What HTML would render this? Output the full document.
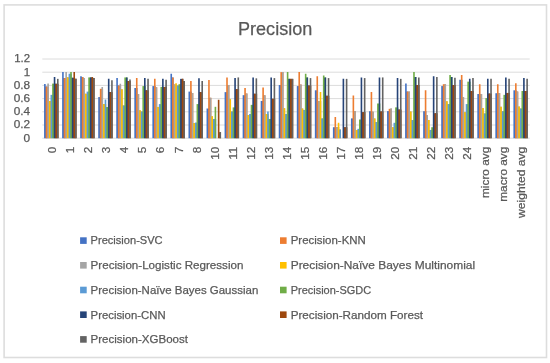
<!DOCTYPE html>
<html lang="en"><head><meta charset="utf-8"><title>Precision</title>
<style>html,body{margin:0;padding:0;background:#fff}svg{display:block}text{stroke:#595959;stroke-width:.25px}</style></head>
<body>
<svg width="550" height="363" viewBox="0 0 550 363" font-family='"Liberation Sans", sans-serif' fill="#595959">
<rect x="0" y="0" width="550" height="363" fill="#ffffff"/>
<rect x="4.1" y="4.9" width="542.4" height="352.6" fill="#ffffff" stroke="#DDDDDD" stroke-width="1.6"/>
<line x1="42.3" x2="529.7" y1="138.20" y2="138.20" stroke="#DCDCDC" stroke-width="1"/>
<line x1="42.3" x2="529.7" y1="125.00" y2="125.00" stroke="#DCDCDC" stroke-width="1"/>
<line x1="42.3" x2="529.7" y1="111.80" y2="111.80" stroke="#DCDCDC" stroke-width="1"/>
<line x1="42.3" x2="529.7" y1="98.60" y2="98.60" stroke="#DCDCDC" stroke-width="1"/>
<line x1="42.3" x2="529.7" y1="85.40" y2="85.40" stroke="#DCDCDC" stroke-width="1"/>
<line x1="42.3" x2="529.7" y1="72.20" y2="72.20" stroke="#DCDCDC" stroke-width="1"/>
<line x1="42.3" x2="529.7" y1="59.00" y2="59.00" stroke="#DCDCDC" stroke-width="1"/>
<text x="30.1" y="141.65" font-size="10.9" text-anchor="end" textLength="6.6" lengthAdjust="spacingAndGlyphs">0</text>
<text x="30.1" y="128.45" font-size="10.9" text-anchor="end" textLength="16.4" lengthAdjust="spacingAndGlyphs">0.2</text>
<text x="30.1" y="115.25" font-size="10.9" text-anchor="end" textLength="16.4" lengthAdjust="spacingAndGlyphs">0.4</text>
<text x="30.1" y="102.05" font-size="10.9" text-anchor="end" textLength="16.4" lengthAdjust="spacingAndGlyphs">0.6</text>
<text x="30.1" y="88.85" font-size="10.9" text-anchor="end" textLength="16.4" lengthAdjust="spacingAndGlyphs">0.8</text>
<text x="30.1" y="75.65" font-size="10.9" text-anchor="end" textLength="6.4" lengthAdjust="spacingAndGlyphs">1</text>
<text x="30.1" y="62.45" font-size="10.9" text-anchor="end" textLength="15.8" lengthAdjust="spacingAndGlyphs">1.2</text>
<path d="M44.07 138.2V84.06H45.68V86.59H47.29V138.2Z" fill="#4472C4"/>
<path d="M45.68 138.2V86.59H48.91V138.2Z" fill="#ED7D31"/>
<path d="M47.29 138.2V83.60H48.91V100.96H50.52V138.2Z" fill="#A5A5A5"/>
<path d="M48.91 138.2V100.96H52.13V138.2Z" fill="#FFC000"/>
<path d="M50.52 138.2V94.85H53.75V138.2Z" fill="#5B9BD5"/>
<path d="M52.13 138.2V83.60H55.36V138.2Z" fill="#70AD47"/>
<path d="M53.75 138.2V76.91H55.36V83.80H56.97V138.2Z" fill="#264478"/>
<path d="M55.36 138.2V83.80H58.59V138.2Z" fill="#9E480E"/>
<path d="M56.97 138.2V78.86H58.59V138.2Z" fill="#636363"/>
<path d="M62.12 138.2V72.10H63.73V78.08H65.34V138.2Z" fill="#4472C4"/>
<path d="M63.73 138.2V78.08H66.96V138.2Z" fill="#ED7D31"/>
<path d="M65.34 138.2V72.10H66.96V77.30H68.57V138.2Z" fill="#A5A5A5"/>
<path d="M66.96 138.2V77.30H70.18V138.2Z" fill="#FFC000"/>
<path d="M68.57 138.2V73.72H71.80V138.2Z" fill="#5B9BD5"/>
<path d="M70.18 138.2V72.10H71.80V77.75H73.41V138.2Z" fill="#70AD47"/>
<path d="M71.80 138.2V77.75H75.02V138.2Z" fill="#264478"/>
<path d="M73.41 138.2V72.10H75.02V78.86H76.64V138.2Z" fill="#9E480E"/>
<path d="M75.02 138.2V78.86H76.64V138.2Z" fill="#636363"/>
<path d="M80.17 138.2V76.13H81.78V76.97H83.40V138.2Z" fill="#4472C4"/>
<path d="M81.78 138.2V76.97H83.40V78.08H85.01V138.2Z" fill="#ED7D31"/>
<path d="M83.40 138.2V78.08H85.01V93.74H86.62V138.2Z" fill="#A5A5A5"/>
<path d="M85.01 138.2V93.74H88.24V138.2Z" fill="#FFC000"/>
<path d="M86.62 138.2V91.60H89.85V138.2Z" fill="#5B9BD5"/>
<path d="M88.24 138.2V77.43H91.46V138.2Z" fill="#70AD47"/>
<path d="M89.85 138.2V77.43H93.08V138.2Z" fill="#264478"/>
<path d="M91.46 138.2V76.91H93.08V78.08H94.69V138.2Z" fill="#9E480E"/>
<path d="M93.08 138.2V78.08H94.69V138.2Z" fill="#636363"/>
<path d="M98.22 138.2V97.06H101.45V138.2Z" fill="#4472C4"/>
<path d="M99.84 138.2V88.80H103.06V138.2Z" fill="#ED7D31"/>
<path d="M101.45 138.2V86.92H103.06V104.08H104.67V138.2Z" fill="#A5A5A5"/>
<path d="M103.06 138.2V104.08H106.29V138.2Z" fill="#FFC000"/>
<path d="M104.67 138.2V99.40H106.29V107.07H107.90V138.2Z" fill="#5B9BD5"/>
<path d="M106.29 138.2V107.07H109.51V138.2Z" fill="#70AD47"/>
<path d="M107.90 138.2V78.86H109.51V92.12H111.13V138.2Z" fill="#264478"/>
<path d="M109.51 138.2V92.12H112.74V138.2Z" fill="#9E480E"/>
<path d="M111.13 138.2V80.22H112.74V138.2Z" fill="#636363"/>
<path d="M116.27 138.2V78.08H117.89V85.49H119.50V138.2Z" fill="#4472C4"/>
<path d="M117.89 138.2V85.49H121.11V138.2Z" fill="#ED7D31"/>
<path d="M119.50 138.2V83.86H121.11V89.32H122.73V138.2Z" fill="#A5A5A5"/>
<path d="M121.11 138.2V89.32H122.73V105.44H124.34V138.2Z" fill="#FFC000"/>
<path d="M122.73 138.2V105.44H125.95V138.2Z" fill="#5B9BD5"/>
<path d="M124.34 138.2V77.43H127.57V138.2Z" fill="#70AD47"/>
<path d="M125.95 138.2V77.43H127.57V81.07H129.18V138.2Z" fill="#264478"/>
<path d="M127.57 138.2V81.07H130.79V138.2Z" fill="#9E480E"/>
<path d="M129.18 138.2V79.44H130.79V138.2Z" fill="#636363"/>
<path d="M134.33 138.2V88.02H137.55V138.2Z" fill="#4472C4"/>
<path d="M135.94 138.2V78.08H137.55V94.00H139.17V138.2Z" fill="#ED7D31"/>
<path d="M137.55 138.2V94.00H139.17V110.19H140.78V138.2Z" fill="#A5A5A5"/>
<path d="M139.17 138.2V110.19H140.78V111.49H142.39V138.2Z" fill="#FFC000"/>
<path d="M140.78 138.2V111.49H144.01V138.2Z" fill="#5B9BD5"/>
<path d="M142.39 138.2V86.07H145.62V138.2Z" fill="#70AD47"/>
<path d="M144.01 138.2V78.08H145.62V90.30H147.23V138.2Z" fill="#264478"/>
<path d="M145.62 138.2V90.30H148.84V138.2Z" fill="#9E480E"/>
<path d="M147.23 138.2V78.86H148.84V138.2Z" fill="#636363"/>
<path d="M152.38 138.2V86.07H155.60V138.2Z" fill="#4472C4"/>
<path d="M153.99 138.2V78.86H155.60V87.18H157.22V138.2Z" fill="#ED7D31"/>
<path d="M155.60 138.2V87.18H157.22V106.88H158.83V138.2Z" fill="#A5A5A5"/>
<path d="M157.22 138.2V106.88H160.44V138.2Z" fill="#FFC000"/>
<path d="M158.83 138.2V104.08H162.06V138.2Z" fill="#5B9BD5"/>
<path d="M160.44 138.2V86.92H163.67V138.2Z" fill="#70AD47"/>
<path d="M162.06 138.2V78.86H163.67V86.92H165.28V138.2Z" fill="#264478"/>
<path d="M163.67 138.2V86.92H166.90V138.2Z" fill="#9E480E"/>
<path d="M165.28 138.2V79.77H166.90V138.2Z" fill="#636363"/>
<path d="M170.43 138.2V73.72H172.04V77.56H173.66V138.2Z" fill="#4472C4"/>
<path d="M172.04 138.2V77.56H173.66V84.38H175.27V138.2Z" fill="#ED7D31"/>
<path d="M173.66 138.2V84.38H176.88V138.2Z" fill="#A5A5A5"/>
<path d="M175.27 138.2V83.28H176.88V85.49H178.50V138.2Z" fill="#FFC000"/>
<path d="M176.88 138.2V85.49H180.11V138.2Z" fill="#5B9BD5"/>
<path d="M178.50 138.2V84.19H181.72V138.2Z" fill="#70AD47"/>
<path d="M180.11 138.2V78.86H183.34V138.2Z" fill="#264478"/>
<path d="M181.72 138.2V78.86H183.34V81.07H184.95V138.2Z" fill="#9E480E"/>
<path d="M183.34 138.2V81.07H184.95V138.2Z" fill="#636363"/>
<path d="M188.48 138.2V91.60H191.71V138.2Z" fill="#4472C4"/>
<path d="M190.09 138.2V80.88H191.71V92.90H193.32V138.2Z" fill="#ED7D31"/>
<path d="M191.71 138.2V92.90H193.32V123.06H194.93V138.2Z" fill="#A5A5A5"/>
<path d="M193.32 138.2V123.06H196.55V138.2Z" fill="#FFC000"/>
<path d="M194.93 138.2V122.54H198.16V138.2Z" fill="#5B9BD5"/>
<path d="M196.55 138.2V104.08H199.77V138.2Z" fill="#70AD47"/>
<path d="M198.16 138.2V78.34H199.77V92.12H201.39V138.2Z" fill="#264478"/>
<path d="M199.77 138.2V92.12H203.00V138.2Z" fill="#9E480E"/>
<path d="M201.39 138.2V81.07H203.00V138.2Z" fill="#636363"/>
<path d="M206.53 138.2V108.50H209.76V138.2Z" fill="#4472C4"/>
<path d="M208.15 138.2V79.97H209.76V97.64H211.37V138.2Z" fill="#ED7D31"/>
<path d="M209.76 138.2V97.64H211.37V116.17H212.99V138.2Z" fill="#A5A5A5"/>
<path d="M211.37 138.2V116.17H212.99V118.96H214.60V138.2Z" fill="#FFC000"/>
<path d="M212.99 138.2V118.96H216.21V138.2Z" fill="#5B9BD5"/>
<path d="M214.60 138.2V106.81H216.21V138.2Z" fill="#70AD47"/>
<path d="M217.83 138.2V99.85H219.44V132.16H221.05V138.2Z" fill="#9E480E"/>
<path d="M219.44 138.2V132.16H221.05V138.2Z" fill="#636363"/>
<path d="M224.58 138.2V92.12H227.81V138.2Z" fill="#4472C4"/>
<path d="M226.20 138.2V77.43H227.81V84.97H229.42V138.2Z" fill="#ED7D31"/>
<path d="M227.81 138.2V84.97H229.42V99.27H231.04V138.2Z" fill="#A5A5A5"/>
<path d="M229.42 138.2V99.27H231.04V111.49H232.65V138.2Z" fill="#FFC000"/>
<path d="M231.04 138.2V111.49H234.26V138.2Z" fill="#5B9BD5"/>
<path d="M232.65 138.2V107.39H235.88V138.2Z" fill="#70AD47"/>
<path d="M234.26 138.2V78.08H235.88V89.13H237.49V138.2Z" fill="#264478"/>
<path d="M235.88 138.2V89.13H239.10V138.2Z" fill="#9E480E"/>
<path d="M237.49 138.2V77.43H239.10V138.2Z" fill="#636363"/>
<path d="M242.64 138.2V95.17H245.86V138.2Z" fill="#4472C4"/>
<path d="M244.25 138.2V88.02H245.86V93.55H247.48V138.2Z" fill="#ED7D31"/>
<path d="M245.86 138.2V93.55H247.48V115.06H249.09V138.2Z" fill="#A5A5A5"/>
<path d="M247.48 138.2V115.06H250.70V138.2Z" fill="#FFC000"/>
<path d="M249.09 138.2V113.96H252.32V138.2Z" fill="#5B9BD5"/>
<path d="M250.70 138.2V104.86H253.93V138.2Z" fill="#70AD47"/>
<path d="M252.32 138.2V77.43H253.93V93.74H255.54V138.2Z" fill="#264478"/>
<path d="M253.93 138.2V93.74H257.16V138.2Z" fill="#9E480E"/>
<path d="M255.54 138.2V78.34H257.16V138.2Z" fill="#636363"/>
<path d="M260.69 138.2V100.96H263.92V138.2Z" fill="#4472C4"/>
<path d="M262.30 138.2V87.38H263.92V95.17H265.53V138.2Z" fill="#ED7D31"/>
<path d="M263.92 138.2V95.17H265.53V113.96H267.14V138.2Z" fill="#A5A5A5"/>
<path d="M265.53 138.2V113.96H268.75V138.2Z" fill="#FFC000"/>
<path d="M267.14 138.2V111.42H268.75V118.96H270.37V138.2Z" fill="#5B9BD5"/>
<path d="M268.75 138.2V118.96H271.98V138.2Z" fill="#70AD47"/>
<path d="M270.37 138.2V77.43H271.98V98.75H273.59V138.2Z" fill="#264478"/>
<path d="M271.98 138.2V98.75H275.21V138.2Z" fill="#9E480E"/>
<path d="M273.59 138.2V78.08H275.21V138.2Z" fill="#636363"/>
<path d="M278.74 138.2V84.97H281.97V138.2Z" fill="#4472C4"/>
<path d="M280.35 138.2V72.10H283.58V138.2Z" fill="#ED7D31"/>
<path d="M281.97 138.2V72.10H283.58V108.17H285.19V138.2Z" fill="#A5A5A5"/>
<path d="M283.58 138.2V108.17H285.19V113.96H286.81V138.2Z" fill="#FFC000"/>
<path d="M285.19 138.2V113.96H288.42V138.2Z" fill="#5B9BD5"/>
<path d="M286.81 138.2V72.10H288.42V78.86H290.03V138.2Z" fill="#70AD47"/>
<path d="M288.42 138.2V78.86H291.65V138.2Z" fill="#264478"/>
<path d="M290.03 138.2V78.86H293.26V138.2Z" fill="#9E480E"/>
<path d="M291.65 138.2V78.86H293.26V138.2Z" fill="#636363"/>
<path d="M296.79 138.2V86.07H300.02V138.2Z" fill="#4472C4"/>
<path d="M298.41 138.2V72.10H300.02V84.38H301.63V138.2Z" fill="#ED7D31"/>
<path d="M300.02 138.2V84.38H301.63V108.50H303.25V138.2Z" fill="#A5A5A5"/>
<path d="M301.63 138.2V108.50H303.25V109.93H304.86V138.2Z" fill="#FFC000"/>
<path d="M303.25 138.2V109.93H306.47V138.2Z" fill="#5B9BD5"/>
<path d="M304.86 138.2V73.72H306.47V77.43H308.08V138.2Z" fill="#70AD47"/>
<path d="M306.47 138.2V77.43H308.08V85.49H309.70V138.2Z" fill="#264478"/>
<path d="M308.08 138.2V85.49H311.31V138.2Z" fill="#9E480E"/>
<path d="M309.70 138.2V78.08H311.31V138.2Z" fill="#636363"/>
<path d="M314.84 138.2V90.30H318.07V138.2Z" fill="#4472C4"/>
<path d="M316.46 138.2V76.13H318.07V101.02H319.68V138.2Z" fill="#ED7D31"/>
<path d="M318.07 138.2V101.02H321.30V138.2Z" fill="#A5A5A5"/>
<path d="M319.68 138.2V92.12H321.30V118.38H322.91V138.2Z" fill="#FFC000"/>
<path d="M321.30 138.2V118.38H324.52V138.2Z" fill="#5B9BD5"/>
<path d="M322.91 138.2V75.54H324.52V77.43H326.14V138.2Z" fill="#70AD47"/>
<path d="M324.52 138.2V77.43H326.14V95.76H327.75V138.2Z" fill="#264478"/>
<path d="M326.14 138.2V95.76H329.36V138.2Z" fill="#9E480E"/>
<path d="M327.75 138.2V78.08H329.36V138.2Z" fill="#636363"/>
<path d="M332.90 138.2V127.22H336.12V138.2Z" fill="#4472C4"/>
<path d="M334.51 138.2V116.95H336.12V127.02H337.74V138.2Z" fill="#ED7D31"/>
<path d="M336.12 138.2V127.02H339.35V138.2Z" fill="#A5A5A5"/>
<path d="M337.74 138.2V122.80H339.35V129.43H340.96V138.2Z" fill="#FFC000"/>
<path d="M339.35 138.2V129.43H340.96V138.2Z" fill="#5B9BD5"/>
<path d="M342.58 138.2V78.86H344.19V127.22H345.80V138.2Z" fill="#264478"/>
<path d="M344.19 138.2V127.22H347.42V138.2Z" fill="#9E480E"/>
<path d="M345.80 138.2V78.86H347.42V138.2Z" fill="#636363"/>
<path d="M350.95 138.2V118.38H354.17V138.2Z" fill="#4472C4"/>
<path d="M352.56 138.2V95.44H354.17V111.10H355.79V138.2Z" fill="#ED7D31"/>
<path d="M354.17 138.2V111.10H355.79V129.95H357.40V138.2Z" fill="#A5A5A5"/>
<path d="M355.79 138.2V129.95H359.01V138.2Z" fill="#FFC000"/>
<path d="M357.40 138.2V128.84H360.63V138.2Z" fill="#5B9BD5"/>
<path d="M359.01 138.2V119.48H362.24V138.2Z" fill="#70AD47"/>
<path d="M360.63 138.2V77.43H362.24V112.14H363.85V138.2Z" fill="#264478"/>
<path d="M362.24 138.2V112.14H365.47V138.2Z" fill="#9E480E"/>
<path d="M363.85 138.2V78.08H365.47V138.2Z" fill="#636363"/>
<path d="M369.00 138.2V111.23H372.23V138.2Z" fill="#4472C4"/>
<path d="M370.61 138.2V92.12H372.23V111.75H373.84V138.2Z" fill="#ED7D31"/>
<path d="M372.23 138.2V111.75H373.84V118.38H375.45V138.2Z" fill="#A5A5A5"/>
<path d="M373.84 138.2V118.38H375.45V122.02H377.07V138.2Z" fill="#FFC000"/>
<path d="M375.45 138.2V122.02H378.68V138.2Z" fill="#5B9BD5"/>
<path d="M377.07 138.2V103.49H380.29V138.2Z" fill="#70AD47"/>
<path d="M378.68 138.2V77.43H380.29V111.42H381.91V138.2Z" fill="#264478"/>
<path d="M380.29 138.2V111.42H383.52V138.2Z" fill="#9E480E"/>
<path d="M381.91 138.2V77.43H383.52V138.2Z" fill="#636363"/>
<path d="M387.05 138.2V111.10H390.28V138.2Z" fill="#4472C4"/>
<path d="M388.66 138.2V108.82H391.89V138.2Z" fill="#ED7D31"/>
<path d="M390.28 138.2V108.17H391.89V127.22H393.50V138.2Z" fill="#A5A5A5"/>
<path d="M391.89 138.2V127.22H395.12V138.2Z" fill="#FFC000"/>
<path d="M393.50 138.2V122.80H396.73V138.2Z" fill="#5B9BD5"/>
<path d="M395.12 138.2V107.39H398.34V138.2Z" fill="#70AD47"/>
<path d="M396.73 138.2V78.08H398.34V109.60H399.96V138.2Z" fill="#264478"/>
<path d="M398.34 138.2V109.60H401.57V138.2Z" fill="#9E480E"/>
<path d="M399.96 138.2V78.86H401.57V138.2Z" fill="#636363"/>
<path d="M405.10 138.2V83.60H406.72V91.60H408.33V138.2Z" fill="#4472C4"/>
<path d="M406.72 138.2V91.60H409.94V138.2Z" fill="#ED7D31"/>
<path d="M408.33 138.2V91.60H409.94V111.42H411.56V138.2Z" fill="#A5A5A5"/>
<path d="M409.94 138.2V111.42H411.56V120.07H413.17V138.2Z" fill="#FFC000"/>
<path d="M411.56 138.2V120.07H414.78V138.2Z" fill="#5B9BD5"/>
<path d="M413.17 138.2V72.10H414.78V76.97H416.40V138.2Z" fill="#70AD47"/>
<path d="M414.78 138.2V76.97H416.40V84.97H418.01V138.2Z" fill="#264478"/>
<path d="M416.40 138.2V84.97H419.62V138.2Z" fill="#9E480E"/>
<path d="M418.01 138.2V77.43H419.62V138.2Z" fill="#636363"/>
<path d="M423.16 138.2V111.23H426.38V138.2Z" fill="#4472C4"/>
<path d="M424.77 138.2V90.30H426.38V115.06H427.99V138.2Z" fill="#ED7D31"/>
<path d="M426.38 138.2V115.06H427.99V120.07H429.61V138.2Z" fill="#A5A5A5"/>
<path d="M427.99 138.2V120.07H429.61V129.95H431.22V138.2Z" fill="#FFC000"/>
<path d="M429.61 138.2V129.95H432.83V138.2Z" fill="#5B9BD5"/>
<path d="M431.22 138.2V127.22H434.45V138.2Z" fill="#70AD47"/>
<path d="M432.83 138.2V76.13H434.45V113.24H436.06V138.2Z" fill="#264478"/>
<path d="M434.45 138.2V113.24H437.67V138.2Z" fill="#9E480E"/>
<path d="M436.06 138.2V76.97H437.67V138.2Z" fill="#636363"/>
<path d="M441.21 138.2V86.07H444.43V138.2Z" fill="#4472C4"/>
<path d="M442.82 138.2V84.19H446.05V138.2Z" fill="#ED7D31"/>
<path d="M444.43 138.2V84.19H446.05V101.35H447.66V138.2Z" fill="#A5A5A5"/>
<path d="M446.05 138.2V101.35H447.66V104.08H449.27V138.2Z" fill="#FFC000"/>
<path d="M447.66 138.2V104.08H450.89V138.2Z" fill="#5B9BD5"/>
<path d="M449.27 138.2V75.03H450.89V76.97H452.50V138.2Z" fill="#70AD47"/>
<path d="M450.89 138.2V76.97H452.50V84.97H454.11V138.2Z" fill="#264478"/>
<path d="M452.50 138.2V84.97H455.73V138.2Z" fill="#9E480E"/>
<path d="M454.11 138.2V77.75H455.73V138.2Z" fill="#636363"/>
<path d="M459.26 138.2V79.77H462.49V138.2Z" fill="#4472C4"/>
<path d="M460.87 138.2V75.03H462.49V97.06H464.10V138.2Z" fill="#ED7D31"/>
<path d="M462.49 138.2V97.06H464.10V112.14H465.71V138.2Z" fill="#A5A5A5"/>
<path d="M464.10 138.2V112.14H467.33V138.2Z" fill="#FFC000"/>
<path d="M465.71 138.2V104.08H468.94V138.2Z" fill="#5B9BD5"/>
<path d="M467.33 138.2V81.66H470.55V138.2Z" fill="#70AD47"/>
<path d="M468.94 138.2V78.86H470.55V91.01H472.16V138.2Z" fill="#264478"/>
<path d="M470.55 138.2V91.01H473.78V138.2Z" fill="#9E480E"/>
<path d="M472.16 138.2V78.08H473.78V138.2Z" fill="#636363"/>
<path d="M477.31 138.2V94.00H480.54V138.2Z" fill="#4472C4"/>
<path d="M478.92 138.2V84.19H480.54V94.00H482.15V138.2Z" fill="#ED7D31"/>
<path d="M480.54 138.2V94.00H482.15V107.91H483.76V138.2Z" fill="#A5A5A5"/>
<path d="M482.15 138.2V107.91H483.76V113.44H485.38V138.2Z" fill="#FFC000"/>
<path d="M483.76 138.2V113.44H486.99V138.2Z" fill="#5B9BD5"/>
<path d="M485.38 138.2V98.10H488.60V138.2Z" fill="#70AD47"/>
<path d="M486.99 138.2V78.86H488.60V93.55H490.22V138.2Z" fill="#264478"/>
<path d="M488.60 138.2V93.55H491.83V138.2Z" fill="#9E480E"/>
<path d="M490.22 138.2V78.86H491.83V138.2Z" fill="#636363"/>
<path d="M495.36 138.2V93.22H498.59V138.2Z" fill="#4472C4"/>
<path d="M496.98 138.2V84.19H498.59V92.90H500.20V138.2Z" fill="#ED7D31"/>
<path d="M498.59 138.2V92.90H500.20V106.81H501.82V138.2Z" fill="#A5A5A5"/>
<path d="M500.20 138.2V106.81H501.82V111.23H503.43V138.2Z" fill="#FFC000"/>
<path d="M501.82 138.2V111.23H505.04V138.2Z" fill="#5B9BD5"/>
<path d="M503.43 138.2V94.85H506.66V138.2Z" fill="#70AD47"/>
<path d="M505.04 138.2V77.43H506.66V92.90H508.27V138.2Z" fill="#264478"/>
<path d="M506.66 138.2V92.90H509.88V138.2Z" fill="#9E480E"/>
<path d="M508.27 138.2V78.86H509.88V138.2Z" fill="#636363"/>
<path d="M513.41 138.2V90.30H516.64V138.2Z" fill="#4472C4"/>
<path d="M515.03 138.2V83.28H516.64V91.60H518.25V138.2Z" fill="#ED7D31"/>
<path d="M516.64 138.2V91.60H518.25V106.61H519.87V138.2Z" fill="#A5A5A5"/>
<path d="M518.25 138.2V106.61H519.87V108.50H521.48V138.2Z" fill="#FFC000"/>
<path d="M519.87 138.2V108.50H523.09V138.2Z" fill="#5B9BD5"/>
<path d="M521.48 138.2V91.01H524.71V138.2Z" fill="#70AD47"/>
<path d="M523.09 138.2V78.08H524.71V91.01H526.32V138.2Z" fill="#264478"/>
<path d="M524.71 138.2V91.01H527.93V138.2Z" fill="#9E480E"/>
<path d="M526.32 138.2V78.86H527.93V138.2Z" fill="#636363"/>
<text transform="translate(56.38,146.7) rotate(-90)" font-size="11.6" text-anchor="end" textLength="6.5" lengthAdjust="spacingAndGlyphs">0</text>
<text transform="translate(74.39,146.7) rotate(-90)" font-size="11.6" text-anchor="end" textLength="6.5" lengthAdjust="spacingAndGlyphs">1</text>
<text transform="translate(92.41,146.7) rotate(-90)" font-size="11.6" text-anchor="end" textLength="6.5" lengthAdjust="spacingAndGlyphs">2</text>
<text transform="translate(110.43,146.7) rotate(-90)" font-size="11.6" text-anchor="end" textLength="6.5" lengthAdjust="spacingAndGlyphs">3</text>
<text transform="translate(128.45,146.7) rotate(-90)" font-size="11.6" text-anchor="end" textLength="6.5" lengthAdjust="spacingAndGlyphs">4</text>
<text transform="translate(146.47,146.7) rotate(-90)" font-size="11.6" text-anchor="end" textLength="6.5" lengthAdjust="spacingAndGlyphs">5</text>
<text transform="translate(164.49,146.7) rotate(-90)" font-size="11.6" text-anchor="end" textLength="6.5" lengthAdjust="spacingAndGlyphs">6</text>
<text transform="translate(182.51,146.7) rotate(-90)" font-size="11.6" text-anchor="end" textLength="6.5" lengthAdjust="spacingAndGlyphs">7</text>
<text transform="translate(200.53,146.7) rotate(-90)" font-size="11.6" text-anchor="end" textLength="6.5" lengthAdjust="spacingAndGlyphs">8</text>
<text transform="translate(218.55,146.7) rotate(-90)" font-size="11.6" text-anchor="end" textLength="13.0" lengthAdjust="spacingAndGlyphs">10</text>
<text transform="translate(236.56,146.7) rotate(-90)" font-size="11.6" text-anchor="end" textLength="13.0" lengthAdjust="spacingAndGlyphs">11</text>
<text transform="translate(254.58,146.7) rotate(-90)" font-size="11.6" text-anchor="end" textLength="13.0" lengthAdjust="spacingAndGlyphs">12</text>
<text transform="translate(272.60,146.7) rotate(-90)" font-size="11.6" text-anchor="end" textLength="13.0" lengthAdjust="spacingAndGlyphs">13</text>
<text transform="translate(290.62,146.7) rotate(-90)" font-size="11.6" text-anchor="end" textLength="13.0" lengthAdjust="spacingAndGlyphs">14</text>
<text transform="translate(308.64,146.7) rotate(-90)" font-size="11.6" text-anchor="end" textLength="13.0" lengthAdjust="spacingAndGlyphs">15</text>
<text transform="translate(326.66,146.7) rotate(-90)" font-size="11.6" text-anchor="end" textLength="13.0" lengthAdjust="spacingAndGlyphs">16</text>
<text transform="translate(344.68,146.7) rotate(-90)" font-size="11.6" text-anchor="end" textLength="13.0" lengthAdjust="spacingAndGlyphs">17</text>
<text transform="translate(362.70,146.7) rotate(-90)" font-size="11.6" text-anchor="end" textLength="13.0" lengthAdjust="spacingAndGlyphs">18</text>
<text transform="translate(380.72,146.7) rotate(-90)" font-size="11.6" text-anchor="end" textLength="13.0" lengthAdjust="spacingAndGlyphs">19</text>
<text transform="translate(398.73,146.7) rotate(-90)" font-size="11.6" text-anchor="end" textLength="13.0" lengthAdjust="spacingAndGlyphs">20</text>
<text transform="translate(416.75,146.7) rotate(-90)" font-size="11.6" text-anchor="end" textLength="13.0" lengthAdjust="spacingAndGlyphs">21</text>
<text transform="translate(434.77,146.7) rotate(-90)" font-size="11.6" text-anchor="end" textLength="13.0" lengthAdjust="spacingAndGlyphs">22</text>
<text transform="translate(452.79,146.7) rotate(-90)" font-size="11.6" text-anchor="end" textLength="13.0" lengthAdjust="spacingAndGlyphs">23</text>
<text transform="translate(470.81,146.7) rotate(-90)" font-size="11.6" text-anchor="end" textLength="13.0" lengthAdjust="spacingAndGlyphs">24</text>
<text transform="translate(488.83,146.7) rotate(-90)" font-size="11.6" text-anchor="end" textLength="51.3" lengthAdjust="spacingAndGlyphs">micro avg</text>
<text transform="translate(506.85,146.7) rotate(-90)" font-size="11.6" text-anchor="end" textLength="55.0" lengthAdjust="spacingAndGlyphs">macro avg</text>
<text transform="translate(524.87,146.7) rotate(-90)" font-size="11.6" text-anchor="end" textLength="71.2" lengthAdjust="spacingAndGlyphs">weighted avg</text>
<text x="238.0" y="34.5" font-size="18.8" textLength="74.3" lengthAdjust="spacingAndGlyphs">Precision</text>
<rect x="80.1" y="237.30" width="6.6" height="6.6" fill="#4472C4"/>
<text x="90.6" y="244.40" font-size="11.6" textLength="72" lengthAdjust="spacingAndGlyphs">Precision-SVC</text>
<rect x="280.0" y="237.30" width="6.6" height="6.6" fill="#ED7D31"/>
<text x="290.7" y="244.40" font-size="11.6" textLength="75.2" lengthAdjust="spacingAndGlyphs">Precision-KNN</text>
<rect x="80.1" y="262.00" width="6.6" height="6.6" fill="#A5A5A5"/>
<text x="90.6" y="269.10" font-size="11.6" textLength="152.8" lengthAdjust="spacingAndGlyphs">Precision-Logistic Regression</text>
<rect x="280.0" y="262.00" width="6.6" height="6.6" fill="#FFC000"/>
<text x="290.7" y="269.10" font-size="11.6" textLength="184.4" lengthAdjust="spacingAndGlyphs">Precision-Naïve Bayes Multinomial</text>
<rect x="80.1" y="286.70" width="6.6" height="6.6" fill="#5B9BD5"/>
<text x="90.6" y="293.80" font-size="11.6" textLength="167.7" lengthAdjust="spacingAndGlyphs">Precision-Naïve Bayes Gaussian</text>
<rect x="280.0" y="286.70" width="6.6" height="6.6" fill="#70AD47"/>
<text x="290.7" y="293.80" font-size="11.6" textLength="80.4" lengthAdjust="spacingAndGlyphs">Precision-SGDC</text>
<rect x="80.1" y="311.40" width="6.6" height="6.6" fill="#264478"/>
<text x="90.6" y="318.50" font-size="11.6" textLength="75" lengthAdjust="spacingAndGlyphs">Precision-CNN</text>
<rect x="280.0" y="311.40" width="6.6" height="6.6" fill="#9E480E"/>
<text x="290.7" y="318.50" font-size="11.6" textLength="132.4" lengthAdjust="spacingAndGlyphs">Precision-Random Forest</text>
<rect x="80.1" y="336.10" width="6.6" height="6.6" fill="#636363"/>
<text x="90.6" y="343.20" font-size="11.6" textLength="97.4" lengthAdjust="spacingAndGlyphs">Precision-XGBoost</text>
</svg>
</body></html>
